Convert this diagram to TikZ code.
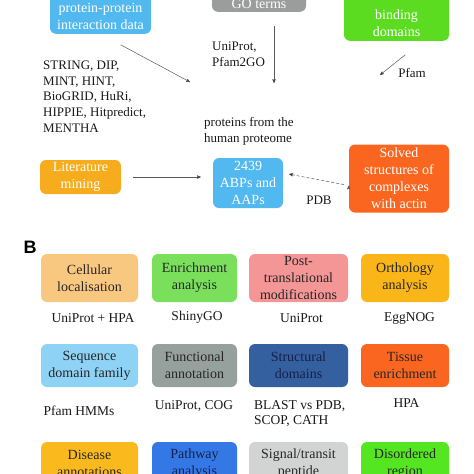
\documentclass[tikz,border=0pt]{standalone}
\usepackage{fontspec}
\setmainfont{Liberation Serif}
\newfontfamily\panelfont{Liberation Sans}
\usetikzlibrary{arrows,positioning}

\definecolor{ppiblue}{RGB}{82,185,240}
\definecolor{gogray}{RGB}{155,157,157}
\definecolor{actingreen}{RGB}{92,220,32}
\definecolor{litorange}{RGB}{246,172,28}
\definecolor{solvedred}{RGB}{250,102,32}
\definecolor{locorange}{RGB}{249,200,128}
\definecolor{enrichgreen}{RGB}{122,224,92}
\definecolor{ptmpink}{RGB}{244,150,150}
\definecolor{orthoyellow}{RGB}{250,182,24}
\definecolor{seqblue}{RGB}{142,210,245}
\definecolor{funcgray}{RGB}{150,160,156}
\definecolor{structblue}{RGB}{52,96,160}
\definecolor{tissuered}{RGB}{250,102,32}
\definecolor{diseaseamber}{RGB}{250,186,30}
\definecolor{pathblue}{RGB}{52,120,230}
\definecolor{signalgray}{RGB}{210,212,212}
\definecolor{disordergreen}{RGB}{84,230,32}
\definecolor{navytext}{RGB}{22,32,72}

\begin{document}
\begin{tikzpicture}[x=1pt,y=-1pt,>=stealth',
  top box/.style={rounded corners=6pt,inner sep=0pt,align=center,text=white,font=\fontsize{14}{17}\selectfont},
  grid box/.style={rounded corners=6pt,inner sep=0pt,align=center,text=black!85,font=\fontsize{14}{17}\selectfont},
  note/.style={inner sep=0pt,text=black!90,font=\fontsize{13}{15.7}\selectfont},
  tool/.style={inner sep=0pt,text=black!90,font=\fontsize{13.5}{15.5}\selectfont},
  link/.style={->,draw=black!65,line width=0.5pt}]
  \useasboundingbox (0,0) rectangle (474,474);
  \clip (0,0) rectangle (474,474);

  % panel A
  \node[top box,fill=ppiblue,minimum width=101pt,minimum height=60pt,anchor=south] (ppi) at (100.5,34) {};
  \node[top box] (ppitext) at (100.5,16.5) {protein-protein\\interaction data};
  \node[top box,fill=gogray,minimum width=94pt,minimum height=40pt,anchor=south] (go) at (259,12) {};
  \node[top box] (gotext) at (259,4) {GO terms};
  \node[top box,fill=actingreen,minimum width=105pt,minimum height=70pt,anchor=south] (actin) at (396.5,41) {};
  \node[top box] (actintext) at (396.5,23) {binding\\domains};

  \node[top box,fill=litorange,minimum width=81pt,minimum height=34pt] (lit) at (80.5,177) {Literature\\mining};
  \node[top box,fill=ppiblue,minimum width=70pt,minimum height=50pt] (abp) at (248,183) {2439\\ABPs and\\AAPs};
  \node[top box,fill=solvedred,minimum width=100pt,minimum height=68pt] (solved) at (399,178.5) {Solved\\structures of\\complexes\\with actin};

  \node[note,align=left,anchor=west] (dbs) at (43,96.5) {STRING, DIP,\\MINT, HINT,\\BioGRID, HuRi,\\HIPPIE, Hitpredict,\\MENTHA};
  \node[note,align=left,anchor=west] (uniprot) at (212,54) {UniProt,\\Pfam2GO};
  \node[note] (pfam) at (412,73) {Pfam};
  \node[note,align=left,anchor=west] (human) at (204,131.5) {proteins from the\\human proteome};
  \node[note] (pdb) at (319,200) {PDB};

  \coordinate (ppi end) at (190,82);
  \coordinate (go end) at (274,83);
  \coordinate (pfam end) at (380,75);

\path[link]
  (ppi.south) edge[shorten <=23pt] (ppi end)
  ([xshift=15pt]go.south) edge[shorten <=14pt] (go end)
  ([xshift=26pt]actin.south) edge[shorten <=22pt] (pfam end)
  (lit.east) edge[shorten <=12pt,shorten >=12pt] (lit.east -| abp.west)
  ([yshift=-7pt]solved.west) edge[dash pattern=on 3pt off 2pt,shorten <=5pt,shorten >=6pt] ([yshift=10pt]abp.east)
;

  % panel B
  \node[inner sep=0pt,font=\panelfont\bfseries\fontsize{18}{18}\selectfont] (panelB) at (30,247.5) {B};

  \node[grid box,fill=locorange,minimum width=97pt,minimum height=48pt] (loc) at (89.5,278) {Cellular\\localisation};
  \node[grid box,fill=enrichgreen,minimum width=85pt,minimum height=48pt] (enrich) at (194.5,278) {Enrichment\\analysis};
  \node[grid box,fill=ptmpink,minimum width=99pt,minimum height=48pt] (ptm) at (298.5,278) {Post-\\translational\\modifications};
  \node[grid box,fill=orthoyellow,minimum width=88pt,minimum height=48pt] (ortho) at (405,278) {Orthology\\analysis};

  \node[grid box,fill=seqblue,minimum width=97pt,minimum height=43pt] (seq) at (89.5,365.5) {Sequence\\domain family};
  \node[grid box,fill=funcgray,minimum width=85pt,minimum height=43pt] (func) at (194.5,365.5) {Functional\\annotation};
  \node[grid box,fill=structblue,text=navytext,minimum width=99pt,minimum height=43pt] (struct) at (298.5,365.5) {Structural\\domains};
  \node[grid box,fill=tissuered,minimum width=88pt,minimum height=43pt] (tissue) at (405,365.5) {Tissue\\enrichment};

  \node[grid box,fill=diseaseamber,minimum width=97pt,minimum height=43pt] (disease) at (89.5,463.5) {Disease\\annotations};
  \node[grid box,fill=pathblue,text=navytext,minimum width=85pt,minimum height=43pt] (pathway) at (194.5,463.5) {Pathway\\analysis};
  \node[grid box,fill=signalgray,minimum width=99pt,minimum height=43pt] (signal) at (298.5,463.5) {Signal/transit\\peptide};
  \node[grid box,fill=disordergreen,minimum width=88pt,minimum height=43pt] (disorder) at (405,463.5) {Disordered\\region};

  \node[tool] (loctool) at (93,318) {UniProt + HPA};
  \node[tool] (enrichtool) at (197,317) {ShinyGO};
  \node[tool] (ptmtool) at (301.5,318) {UniProt};
  \node[tool] (orthotool) at (409.5,318) {EggNOG};
  \node[tool] (seqtool) at (79,411) {Pfam HMMs};
  \node[tool] (functool) at (194,406) {UniProt, COG};
  \node[tool,align=left,anchor=west] (structtool) at (254,413.5) {BLAST vs PDB,\\SCOP, CATH};
  \node[tool] (tissuetool) at (406.5,403) {HPA};
\end{tikzpicture}
\end{document}
